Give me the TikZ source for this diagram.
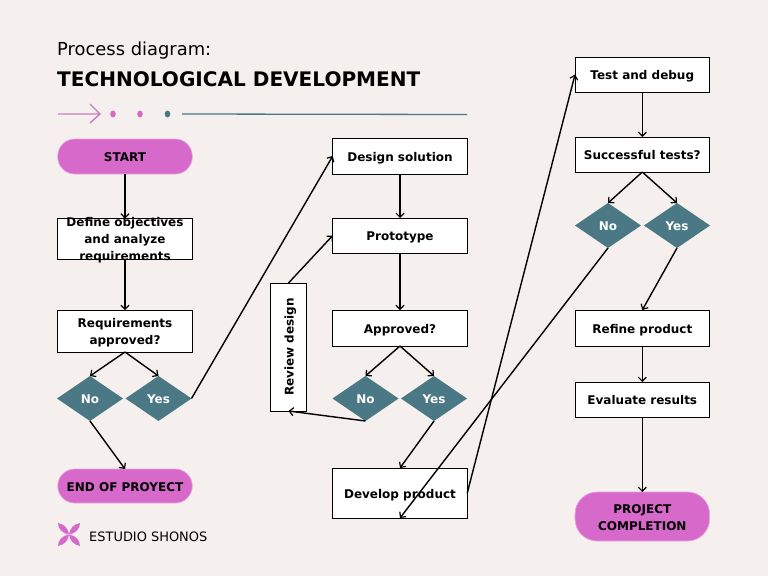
\documentclass[tikz,border=0pt]{standalone}
\usepackage{fontspec}
\setmainfont{DejaVu Sans}
\usetikzlibrary{arrows.meta, shapes.geometric}
\definecolor{bgc}{HTML}{F5F0EE}
\definecolor{pinkc}{HTML}{D669C9}
\definecolor{pinkl}{HTML}{C77DBF}
\definecolor{tealc}{HTML}{4A7884}
\newcommand{\stk}[2]{\raisebox{#1}{\smash{\begin{tabular}{@{}c@{}}#2\end{tabular}}}}
\tikzset{
  box/.style={draw=black, fill=white, line width=0.9pt, inner sep=0pt, outer sep=0pt,
    minimum width=134.5pt, font=\fontsize{12}{17}\selectfont\bfseries, text height=10.4pt, text depth=0pt},
  pill/.style={box, draw=pinkc!60!white, fill=pinkc, line width=0.7pt},
  dec/.style={diamond, fill=tealc, text=white, inner sep=0pt, outer sep=0pt, aspect=1.45,
    minimum width=66pt, minimum height=45pt, font=\fontsize{12}{14}\selectfont\bfseries, text height=10.4pt, text depth=0pt},
  conn/.style={line width=1.4pt, -{Straight Barb[length=4pt,width=8pt,line width=1.2pt]}},
}
\begin{document}
\begin{tikzpicture}[x=1pt, y=-1pt]
\fill[bgc] (0,0) rectangle (768,576);
\useasboundingbox (0,0) rectangle (768,576);
% header
\node[anchor=west, inner sep=0pt, font=\fontsize{17.9}{20}\selectfont] (sub) at (57,50.5) {Process diagram:};
\node[anchor=west, inner sep=0pt, font=\fontsize{20.05}{24}\selectfont\bfseries] (title) at (57,79) {TECHNOLOGICAL DEVELOPMENT};
\draw[pinkl, line width=1.4pt] (58,114) -- (99,114) (90,104) -- (100,114) -- (90,123);
\fill[pinkc] (113,114) ellipse (2.8pt and 3.4pt);
\fill[pinkc] (140,114) ellipse (2.8pt and 3.4pt);
\fill[tealc] (167.5,114) ellipse (2.8pt and 3.4pt);
\draw[tealc, line width=1.3pt] (182,114) -- (467,114.5);
% first column
\node[pill, rounded corners=17pt, minimum height=35pt] (start) at (125,156.5) {START};
\node[box, minimum height=41pt] (define) at (125,239) {\stk{1.6pt}{Define objectives\\and analyze\\requirements}};
\node[box, minimum height=42pt] (req) at (125,331) {\stk{0.4pt}{Requirements\\approved?}};
\node[dec] (no1) at (90,398.5) {No};
\node[dec] (yes1) at (158.5,398.5) {Yes};
\node[pill, rounded corners=17pt, minimum height=34pt] (end) at (125,486) {END OF PROYECT};
% second column
\node[box, minimum height=36pt] (design) at (400,156) {Design solution};
\node[box, minimum height=35pt] (proto) at (400,235.5) {Prototype};
\node[box, minimum height=36pt] (appr) at (400,328) {Approved?};
\node[dec] (no2) at (365.5,398.5) {No};
\node[dec] (yes2) at (434,398.5) {Yes};
\node[box, minimum height=50pt] (dev) at (400,493) {Develop product};
\node[box, minimum width=128pt, minimum height=36pt, rotate=90] (rev) at (288.5,347) {Review design};
% third column
\node[box, minimum height=35pt] (test) at (642.3,74.5) {Test and debug};
\node[box, minimum height=35pt] (succ) at (642.3,154.5) {Successful tests?};
\node[dec] (no3) at (608,225.5) {No};
\node[dec] (yes3) at (677,225.5) {Yes};
\node[box, minimum height=36pt] (refine) at (642.3,328) {Refine product};
\node[box, minimum height=35pt] (eval) at (642.3,399.5) {Evaluate results};
\node[pill, rounded corners=22pt, minimum height=49pt] (compl) at (642.3,516.5) {\stk{0.2pt}{PROJECT\\COMPLETION}};
% connectors
\draw[conn] (start.south) -- (define.north);
\draw[conn] (define.south) -- (req.north);
\draw[conn] (req.south) -- (no1.north);
\draw[conn] (req.south) -- (yes1.north);
\draw[conn] (no1.south) -- (end.north);
\draw[conn] (yes1.east) -- (design.west);
\draw[conn] (design.south) -- (proto.north);
\draw[conn] (proto.south) -- (appr.north);
\draw[conn] (appr.south) -- (no2.north);
\draw[conn] (appr.south) -- (yes2.north);
\draw[conn] (no2.south) -- (rev.west);
\draw[conn] (rev.east) -- (proto.west);
\draw[conn] (yes2.south) -- (dev.north);
\draw[conn] (dev.east) -- (test.west);
\draw[conn] (test.south) -- (succ.north);
\draw[conn] (succ.south) -- (no3.north);
\draw[conn] (succ.south) -- (yes3.north);
\draw[conn] (no3.south) -- (dev.south);
\draw[conn] (yes3.south) -- (refine.north);
\draw[conn] (refine.south) -- (eval.north);
\draw[conn] (eval.south) -- (compl.north);
% logo
\foreach \sx/\sy in {1/1, -1/1, 1/-1, -1/-1}
  \fill[pinkc, shift={(69,534.5)}, xscale=\sx, yscale=\sy]
    (0,0) .. controls (1,6) and (4,10) .. (11,11.5) .. controls (11,6) and (7,1) .. (0,0) -- cycle;
\node[anchor=west, inner sep=0pt, font=\fontsize{12.95}{15}\selectfont] (brand) at (89,536.5) {ESTUDIO SHONOS};
\end{tikzpicture}
\end{document}
